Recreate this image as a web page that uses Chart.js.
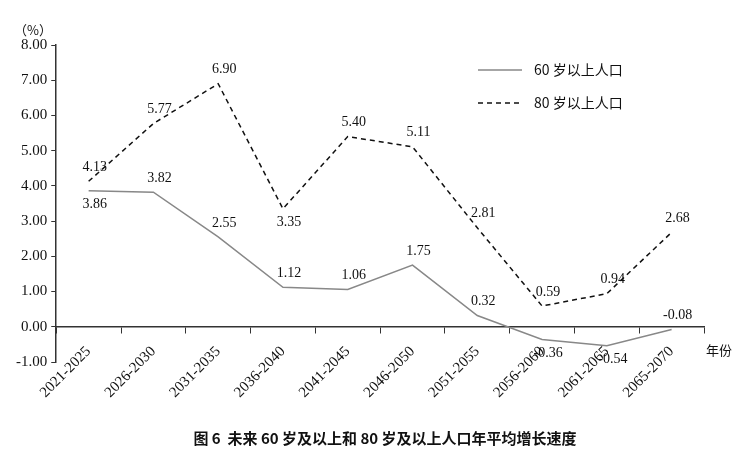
<!DOCTYPE html>
<html><head><meta charset="utf-8">
<script src="https://cdn.jsdelivr.net/npm/chart.js@4"></script>
<style>body{margin:0;background:#fff}#wrap{width:746px;height:467px}</style>
</head><body><div id="wrap"><canvas id="c"></canvas></div>
<script>
const categories = ['2021-2025','2026-2030','2031-2035','2036-2040','2041-2045','2046-2050','2051-2055','2056-2060','2061-2065','2065-2070'];
const age60 = [3.86, 3.82, 2.55, 1.12, 1.06, 1.75, 0.32, -0.36, -0.54, -0.08];
const age80 = [4.13, 5.77, 6.90, 3.35, 5.40, 5.11, 2.81, 0.59, 0.94, 2.68];
const yTicks = [-1, 0, 1, 2, 3, 4, 5, 6, 7, 8];
// label placement: 1 = above point, -1 = below
const place60 = [-1, 1, 1, 1, 1, 1, 1, -1, -1, 1];
const place80 = [1, 1, 1, -1, 1, 1, 1, 1, 1, 1];

const serif = '"Liberation Serif", "Noto Serif CJK SC", serif';
const cjk = '"Noto Sans CJK SC", sans-serif';

const decor = {
  id: 'decor',
  afterDatasetsDraw(chart) {
    const { ctx } = chart;
    ctx.save();
    ctx.fillStyle = '#111';
    ctx.textAlign = 'center';
    ctx.textBaseline = 'middle';
    ctx.font = '14px ' + serif;
    [[0, place60, age60], [1, place80, age80]].forEach(([di, pl, vals]) => {
      chart.getDatasetMeta(di).data.forEach((pt, i) => {
        ctx.fillText(vals[i].toFixed(2), pt.x + 6, pt.y - pl[i] * 14);
      });
    });
    // legend
    ctx.textAlign = 'left';
    ctx.font = '14px ' + cjk;
    ctx.lineWidth = 1.5;
    ctx.strokeStyle = '#888';
    ctx.beginPath(); ctx.moveTo(478, 70); ctx.lineTo(522, 70); ctx.stroke();
    ctx.fillText('60 岁以上人口', 534, 70);
    ctx.strokeStyle = '#111';
    ctx.setLineDash([5, 4]);
    ctx.beginPath(); ctx.moveTo(478, 103); ctx.lineTo(522, 103); ctx.stroke();
    ctx.setLineDash([]);
    ctx.fillText('80 岁以上人口', 534, 103);
    // units and titles
    ctx.font = '13px ' + cjk;
    ctx.fillText('（%）', 14, 30);
    ctx.fillText('年份', 706, 350);
    ctx.textAlign = 'center';
    ctx.font = 'bold 15px ' + cjk;
    ctx.fillText('图 6  未来 60 岁及以上和 80 岁及以上人口年平均增长速度', 385, 438);
    ctx.restore();
  }
};

new Chart(document.getElementById('c'), {
  type: 'line',
  data: {
    labels: categories,
    datasets: [
      { data: age60, borderColor: '#888', borderWidth: 1.5, pointRadius: 0, tension: 0 },
      { data: age80, borderColor: '#111', borderWidth: 1.5, borderDash: [5, 4], pointRadius: 0, tension: 0 }
    ]
  },
  options: {
    responsive: true,
    maintainAspectRatio: false,
    animation: false,
    layout: { padding: { top: 45, right: 42, bottom: 105, left: 12 } },
    plugins: { legend: { display: false }, tooltip: { enabled: false } },
    scales: {
      x: {
        position: { y: 0 },
        offset: true,
        grid: { display: true, drawOnChartArea: false, offset: true, tickLength: 6, color: '#333' },
        border: { color: '#333', width: 1.5 },
        ticks: { color: '#111', maxRotation: 45, minRotation: 45, font: { family: serif, size: 15 }, padding: 10 }
      },
      y: {
        min: -1, max: 8,
        afterBuildTicks: s => { s.ticks = yTicks.map(v => ({ value: v })); },
        grid: { display: true, drawOnChartArea: false, tickLength: 5, color: '#333' },
        border: { color: '#333', width: 1.5 },
        ticks: { color: '#111', font: { family: serif, size: 15 }, callback: v => v.toFixed(2), padding: 4 }
      }
    }
  },
  plugins: [decor]
});
</script></body></html>
